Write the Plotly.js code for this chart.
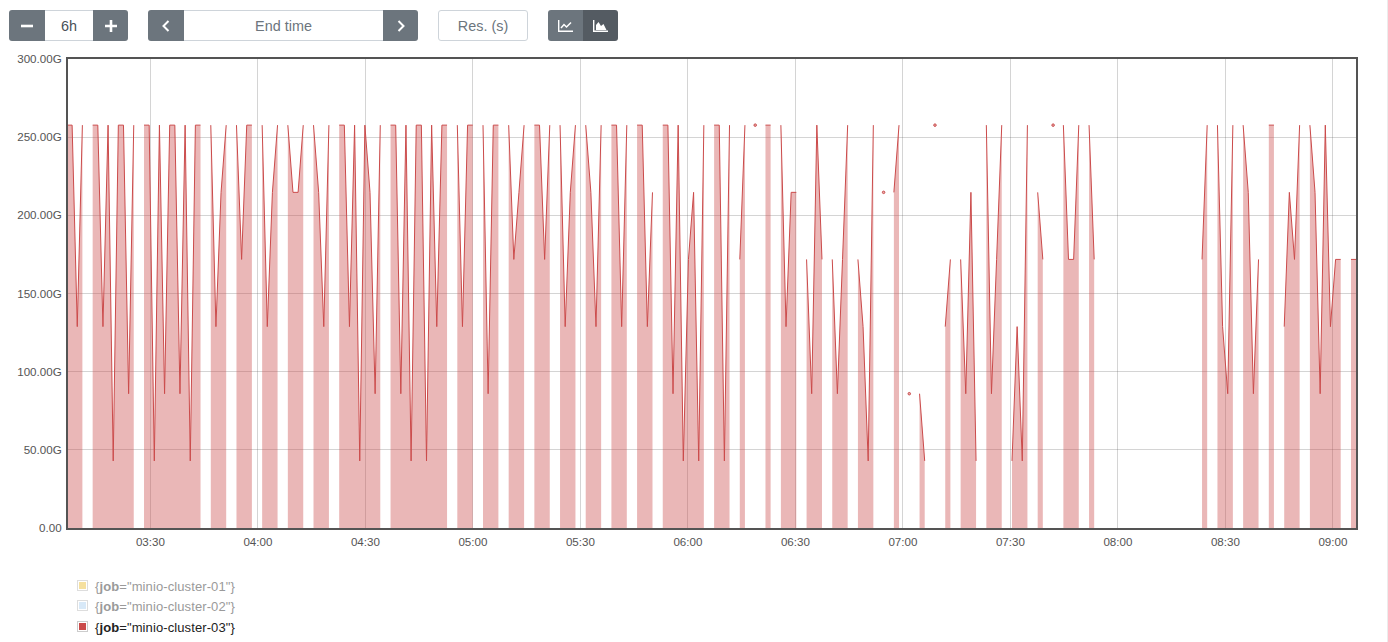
<!DOCTYPE html>
<html>
<head>
<meta charset="utf-8">
<script src="https://cdn.plot.ly/plotly-3.0.1.min.js"></script>
<style>
html,body{margin:0;padding:0;background:#fff;width:1388px;height:642px;overflow:hidden;font-family:"Liberation Sans",Arial,sans-serif;}
#chart{position:absolute;left:0;top:0;width:1388px;height:642px;}
.ctl{position:absolute;top:10px;height:31px;box-sizing:border-box;display:flex;align-items:center;justify-content:center;font-size:14.4px;}
.btn{background:#6c757d;color:#fff;}
.fld{background:#fff;border:1px solid #ced4da;color:#495057;}
.sw{position:absolute;left:77px;width:11px;height:11px;box-sizing:border-box;border:1px solid #ddd;padding:1px;background:#fff;}
.sw i{display:block;width:100%;height:100%;}
.legt{position:absolute;left:95px;font-size:13px;letter-spacing:0.1px;line-height:14px;white-space:nowrap;}
#edge{position:absolute;left:1387px;top:0;width:1px;height:642px;background:#ececec;}
</style>
</head>
<body>
<div id="chart"></div>
<div class="ctl btn" style="left:9px;width:36px;border-radius:3px 0 0 3px"><svg width="12" height="12"><path d="M0 6H12" stroke="#fff" stroke-width="2.6"/></svg></div>
<div class="ctl fld" style="left:45px;width:48px;border-left:0;border-right:0;color:#495057">6h</div>
<div class="ctl btn" style="left:93px;width:35px;border-radius:0 3px 3px 0"><svg width="12" height="12"><path d="M0 6H12M6 0V12" stroke="#fff" stroke-width="2.6"/></svg></div>
<div class="ctl btn" style="left:148px;width:36px;border-radius:3px 0 0 3px"><svg width="8" height="12"><path d="M6.5 1L1.5 6L6.5 11" fill="none" stroke="#fff" stroke-width="2"/></svg></div>
<div class="ctl fld" style="left:184px;width:199px;border-left:0;border-right:0;color:#6c757d">End time</div>
<div class="ctl btn" style="left:383px;width:35px;border-radius:0 3px 3px 0"><svg width="8" height="12"><path d="M1.5 1L6.5 6L1.5 11" fill="none" stroke="#fff" stroke-width="2"/></svg></div>
<div class="ctl fld" style="left:438px;width:90px;border-radius:3px;color:#6c757d">Res. (s)</div>
<div class="ctl btn" style="left:548px;width:35px;border-radius:3px 0 0 3px"><svg width="15" height="12"><path d="M0.7 0V11.3H15" fill="none" stroke="#fff" stroke-width="1.4"/><path d="M3 8L6 4.5L8.5 7L13 2.5" fill="none" stroke="#fff" stroke-width="1.5"/></svg></div>
<div class="ctl btn" style="left:583px;width:35px;border-radius:0 3px 3px 0;background:#545b62"><svg width="15" height="12"><path d="M0.7 0V11.3H15" fill="none" stroke="#fff" stroke-width="1.4"/><path d="M3 10V5L5.5 2L8 6L10.5 4L13.5 10Z" fill="#fff"/></svg></div>
<div class="sw" style="top:580px"><i style="background:#f5e09f"></i></div>
<div class="legt" style="top:580px;color:#9a9a9a">{<b>job</b>="minio-cluster-01"}</div>
<div class="sw" style="top:600px"><i style="background:#d8e9f8"></i></div>
<div class="legt" style="top:600px;color:#9a9a9a">{<b>job</b>="minio-cluster-02"}</div>
<div class="sw" style="top:621px;border-color:#ccc"><i style="background:#cb4b4b"></i></div>
<div class="legt" style="top:621px;color:#222">{<b>job</b>="minio-cluster-03"}</div>
<div id="edge"></div>
<script>
const seriesName = '{job="minio-cluster-03"}';
const startTime = '2021-01-01T03:06:43Z';
const stepSeconds = 86;
const rangeStart = '2021-01-01T03:07:00Z';
const rangeEnd = '2021-01-01T09:06:27Z';
const seriesValues = [
257.7,257.7,128.8,257.7,null,257.7,257.7,128.8,257.7,42.9,
257.7,257.7,85.9,257.7,null,257.7,257.7,42.9,257.7,85.9,
257.7,257.7,85.9,257.7,42.9,257.7,257.7,null,257.7,128.8,
214.7,257.7,null,257.7,171.8,257.7,257.7,null,257.7,128.8,
214.7,257.7,null,257.7,214.7,214.7,257.7,null,257.7,214.7,
128.8,257.7,null,257.7,257.7,128.8,257.7,42.9,257.7,214.7,
85.9,257.7,null,257.7,257.7,85.9,257.7,42.9,257.7,257.7,
42.9,257.7,128.8,257.7,257.7,null,257.7,128.8,257.7,257.7,
null,257.7,85.9,257.7,257.7,null,257.7,171.8,214.7,257.7,
null,257.7,257.7,171.8,257.7,null,257.7,128.8,214.7,257.7,
null,257.7,214.7,128.8,257.7,null,257.7,257.7,128.8,257.7,
null,257.7,257.7,128.8,214.7,null,257.7,257.7,85.9,257.7,
42.9,171.8,214.7,42.9,257.7,null,257.7,257.7,42.9,257.7,
null,171.8,257.7,null,257.7,null,257.7,257.7,null,257.7,
128.8,214.7,214.7,null,171.8,85.9,257.7,171.8,null,171.8,
85.9,171.8,257.7,null,171.8,128.8,42.9,257.7,null,214.7,
null,214.7,257.7,null,85.9,null,85.9,42.9,null,257.7,
null,128.8,171.8,null,171.8,85.9,214.7,42.9,null,257.7,
85.9,171.8,257.7,null,42.9,128.8,42.9,257.7,null,214.7,
171.8,null,257.7,null,257.7,171.8,171.8,257.7,null,257.7,
171.8,null,null,null,null,null,null,null,null,null,
null,null,null,null,null,null,null,null,null,null,
null,171.8,257.7,null,257.7,128.8,85.9,257.7,null,257.7,
214.7,85.9,171.8,null,257.7,257.7,null,128.8,214.7,171.8,
257.7,null,257.7,214.7,85.9,257.7,128.8,171.8,171.8,null,
171.8,171.8
];
const yTickValues = [0,50,100,150,200,250,300];
const yTickLabels = ['0.00','50.00G','100.00G','150.00G','200.00G','250.00G','300.00G'];
const xTickValues = ['2021-01-01T03:30:00Z','2021-01-01T04:00:00Z','2021-01-01T04:30:00Z','2021-01-01T05:00:00Z','2021-01-01T05:30:00Z','2021-01-01T06:00:00Z','2021-01-01T06:30:00Z','2021-01-01T07:00:00Z','2021-01-01T07:30:00Z','2021-01-01T08:00:00Z','2021-01-01T08:30:00Z','2021-01-01T09:00:00Z'];
const xTickLabels = ['03:30','04:00','04:30','05:00','05:30','06:00','06:30','07:00','07:30','08:00','08:30','09:00'];

const t0 = Date.parse(startTime);
const sampleTimes = seriesValues.map((_, i) => new Date(t0 + i * stepSeconds * 1000).toISOString());

// every unbroken run of samples becomes its own filled trace, so gaps stay empty
const runs = [];
let run = null;
seriesValues.forEach((v, i) => {
  if (v === null) { run = null; return; }
  if (!run) { run = {x:[], y:[]}; runs.push(run); }
  run.x.push(sampleTimes[i]); run.y.push(v);
});
const traces = runs.map(r => r.y.length > 1
  ? {type:'scatter', mode:'lines', name:seriesName, x:r.x, y:r.y, fill:'tozeroy',
     fillcolor:'rgba(203,75,75,0.4)', line:{color:'#cb4b4b', width:1}, hoverinfo:'skip', showlegend:false}
  : {type:'scatter', mode:'markers', name:seriesName, x:r.x, y:r.y,
     marker:{size:2.5, color:'rgba(203,75,75,0.45)', line:{color:'#cb4b4b', width:1}}, hoverinfo:'skip', showlegend:false});

const axisFont = {family:'"Liberation Sans",Arial,sans-serif', size:11.6, color:'#545454'};
const layout = {
  width:1388, height:642, showlegend:false,
  margin:{l:68, r:32, t:59, b:114, pad:0},
  paper_bgcolor:'rgba(0,0,0,0)', plot_bgcolor:'#fff',
  xaxis:{type:'date', range:[rangeStart, rangeEnd], tickmode:'array', tickvals:xTickValues, ticktext:xTickLabels, ticklabelstandoff:2,
    showgrid:true, gridcolor:'rgba(84,84,84,0.25)', gridwidth:1, zeroline:false, showline:true, mirror:true, linecolor:'#545454', linewidth:2, ticks:'', tickfont:axisFont, automargin:false},
  yaxis:{range:[0,300], tickmode:'array', tickvals:yTickValues, ticktext:yTickLabels, ticklabelstandoff:2,
    showgrid:true, gridcolor:'rgba(84,84,84,0.25)', gridwidth:1, zeroline:false, showline:true, mirror:true, linecolor:'#545454', linewidth:2, ticks:'', tickfont:axisFont, automargin:false}
};
Plotly.newPlot('chart', traces, layout, {displayModeBar:false, staticPlot:true});
</script>
</body>
</html>
